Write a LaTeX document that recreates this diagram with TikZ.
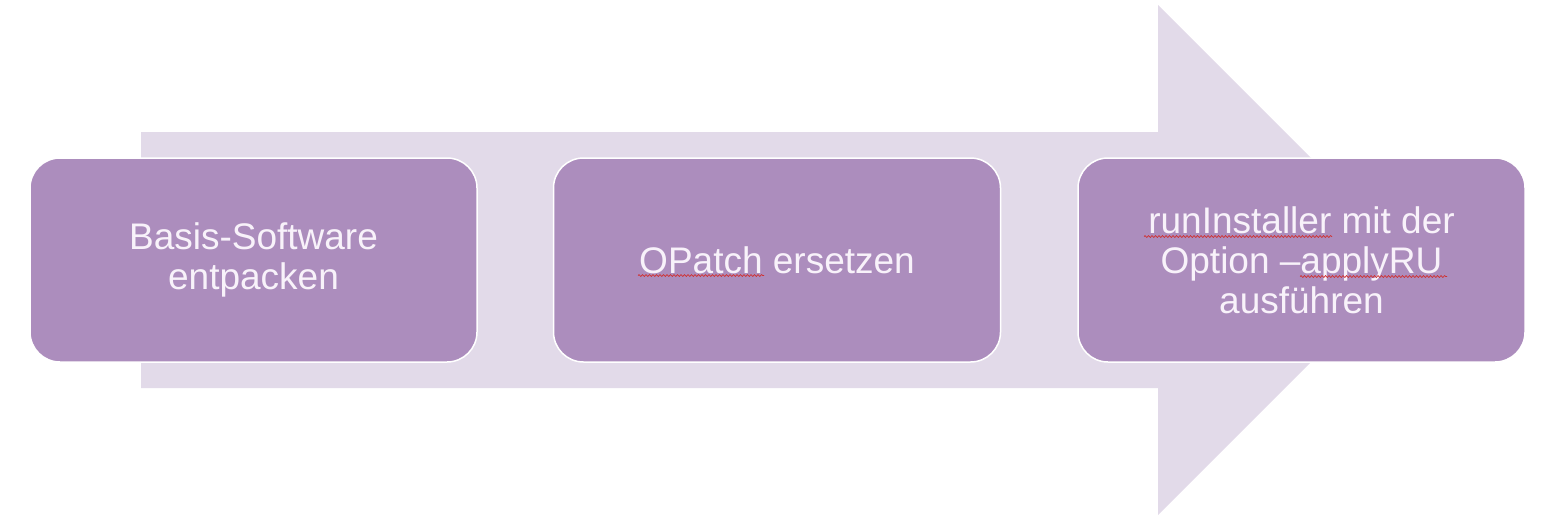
\documentclass[tikz,border=0pt]{standalone}
\usepackage{fontspec}
\setmainfont{Liberation Sans}
\usetikzlibrary{decorations.pathmorphing}
\definecolor{arrowfill}{HTML}{E2DAE9}
\definecolor{boxfill}{HTML}{AC8DBD}
\definecolor{boxtext}{HTML}{F8F2FA}
\definecolor{squig}{HTML}{D03030}
\begin{document}
\begin{tikzpicture}[x=1pt,y=-1pt,
  stepbox/.style={draw=white, line width=1.5pt, fill=boxfill, rounded corners=30pt,
    minimum width=447pt, minimum height=204pt, inner sep=0pt, outer sep=0pt,
    align=center, text=boxtext, font=\fontsize{37}{40}\selectfont},
  squiggle/.style={draw=squig, line width=0.7pt,
    decorate, decoration={snake, amplitude=0.9pt, segment length=3.5pt}}]
\useasboundingbox (0,0) rectangle (1547,523);
% big arrow
\fill[arrowfill] (141,132) -- (1158,132) -- (1158,5) -- (1413,260) -- (1158,515) -- (1158,388) -- (141,388) -- cycle;
% boxes
\node[stepbox] (b1) at (253.5,260) {Basis-Software\\entpacken};
\node[stepbox] (b2) at (777,260) {OPatch ersetzen};
\node[stepbox] (b3) at (1301.5,260) {runInstaller mit der\\Option –applyRU\\ausführen};
% spell-check underlines
\draw[squiggle] (638,275.5) -- (764,275.5);
\draw[squiggle] (1144,236.5) -- (1332,236.5);
\draw[squiggle] (1300,276.5) -- (1447,276.5);
\end{tikzpicture}
\end{document}
